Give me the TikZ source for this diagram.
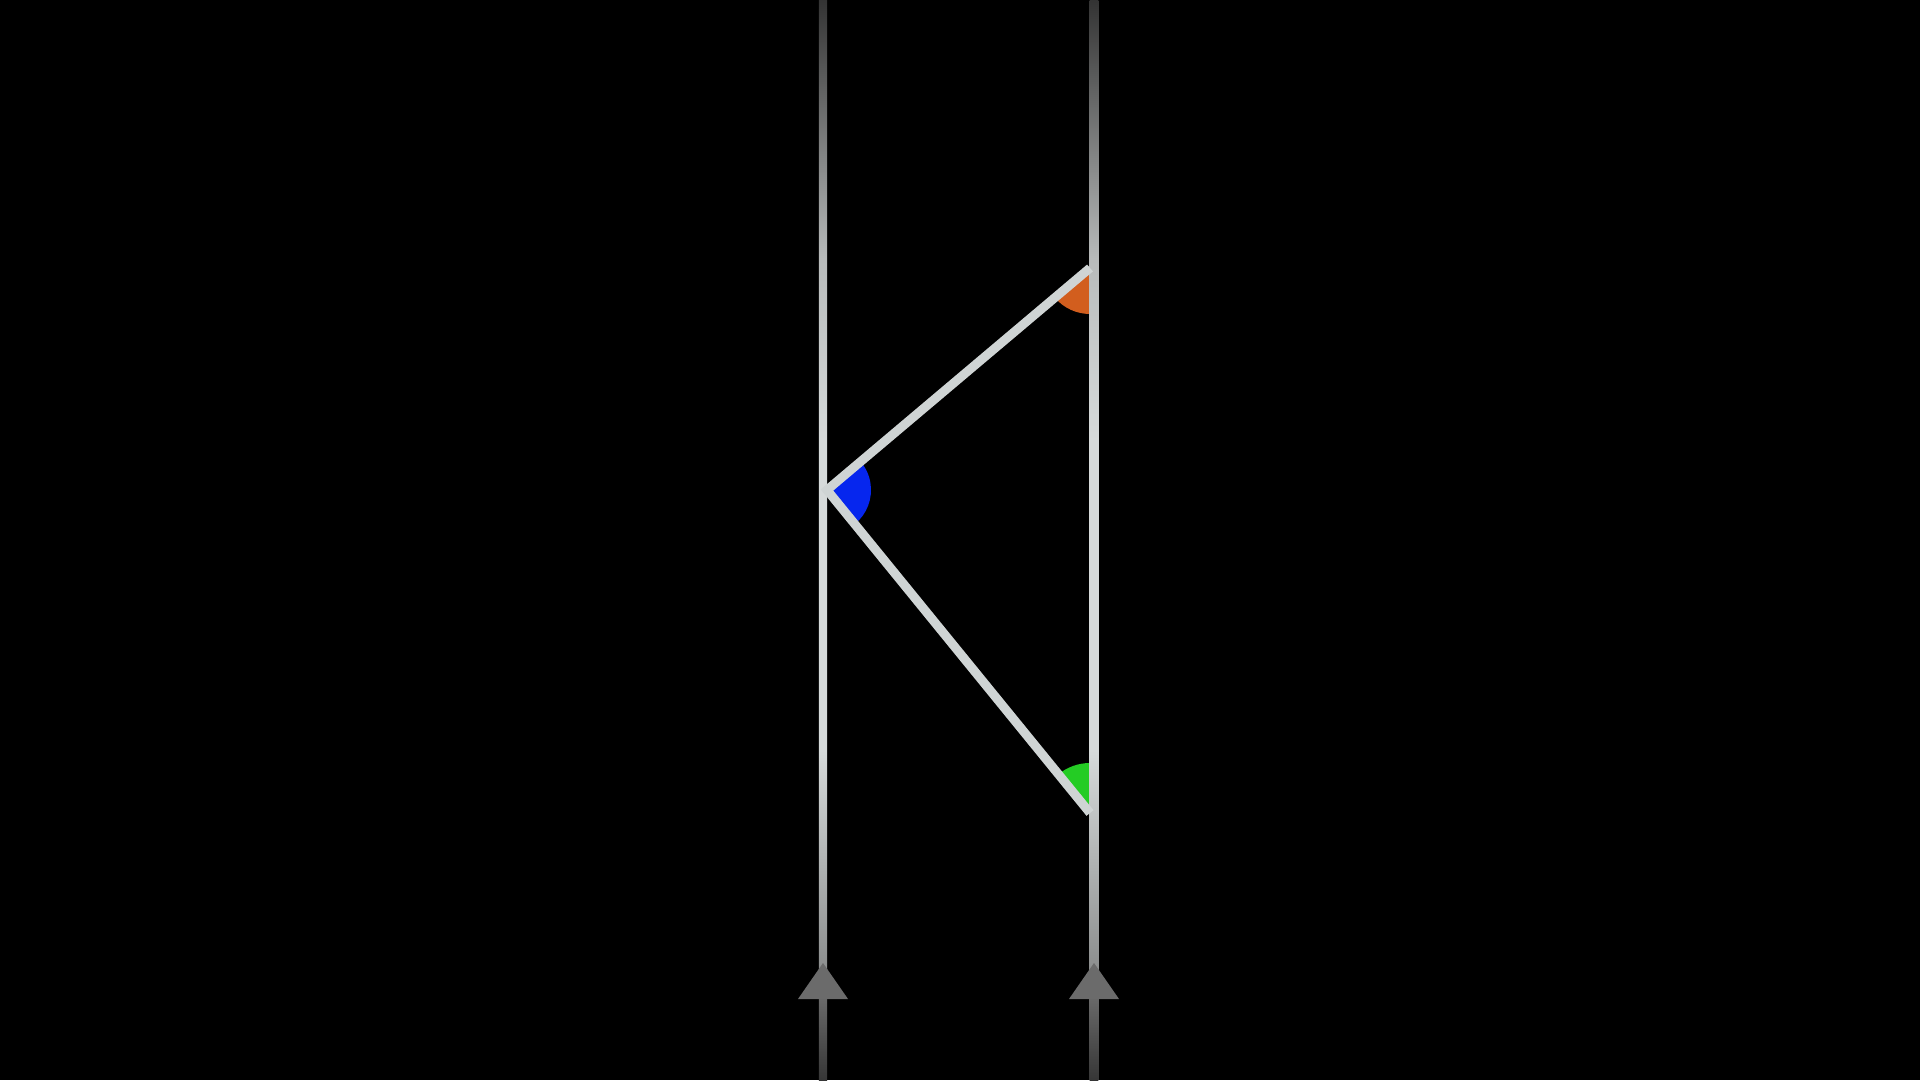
\documentclass[tikz,border=0pt]{standalone}
\definecolor{diagc}{HTML}{CFD4D4}
\definecolor{headc}{HTML}{6B6B6B}
\definecolor{topc}{HTML}{333333}
\definecolor{midc}{HTML}{D6DADA}
\definecolor{upc}{HTML}{B8BBBB}
\definecolor{lowc}{HTML}{8C8E8E}
\definecolor{botc}{HTML}{363636}
\definecolor{wedgeorange}{HTML}{D25E1E}
\definecolor{wedgeblue}{HTML}{0626EE}
\definecolor{wedgegreen}{HTML}{24CC24}
\pgfdeclareverticalshading{vline}{100bp}{color(0bp)=(botc); color(25bp)=(botc); color(28.94bp)=(headc); color(30.09bp)=(lowc); color(40.28bp)=(midc); color(54.63bp)=(midc); color(62.96bp)=(upc); color(75bp)=(topc); color(100bp)=(topc)}
\begin{document}
\begin{tikzpicture}[x=1pt,y=1pt,
  diag/.style={draw=diagc,line width=9pt,line join=miter},
  arrowhead/.style={fill=headc}]
\fill[black] (0,0) rectangle (1920,1080);
\useasboundingbox (0,0) rectangle (1920,1080);
% key points
\coordinate (L) at (827,590);
\coordinate (T) at (1090,812);
\coordinate (B) at (1090,267);
% wedges
\fill[wedgeorange] (T) -- ++(220.17:46) arc[start angle=220.17,end angle=270,radius=46] -- cycle;
\fill[wedgeblue] (L) -- ++(-50.85:44) arc[start angle=-50.85,end angle=40.17,radius=44] -- cycle;
\fill[wedgegreen] (B) -- ++(90:50) arc[start angle=90,end angle=129.15,radius=50] -- cycle;
% vertical lines
\shade[shading=vline] (818.8,0) rectangle (827.2,1080);
\shade[shading=vline] (1089.6,0) rectangle (1098.4,1080);
\coordinate (A1) at (823,117);
\coordinate (A2) at (1094,117);
\fill[arrowhead] (A1) -- ++(-25,-36) -- ++(50,0) -- cycle;
\fill[arrowhead] (A2) -- ++(-25,-36) -- ++(50,0) -- cycle;
% diagonals
\draw[diag] (T) -- (L) -- (B);
\end{tikzpicture}
\end{document}
